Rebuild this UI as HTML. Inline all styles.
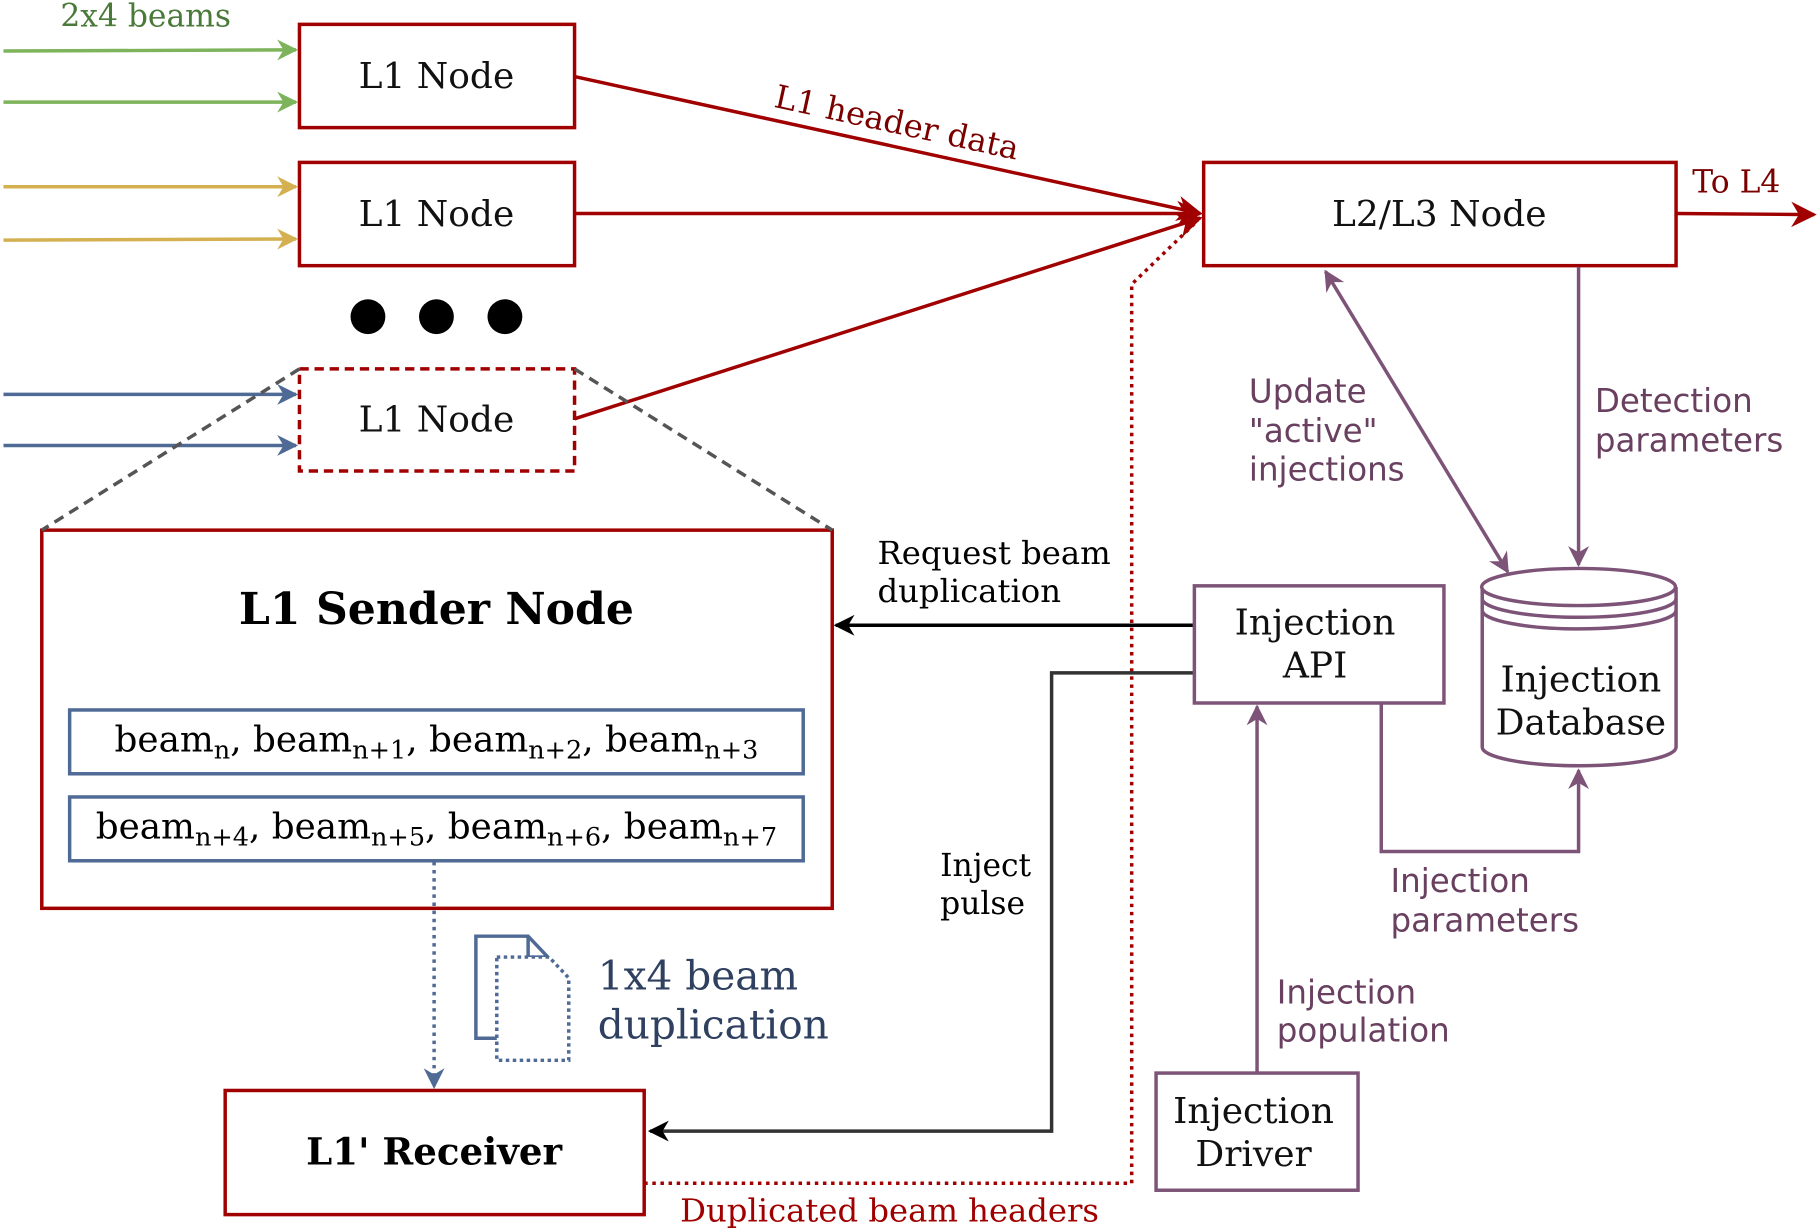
<!DOCTYPE html>
<html><head><meta charset="utf-8"><style>
html,body{margin:0;padding:0;background:#fff;}
svg{display:block;}
.s{font-family:"DejaVu Serif","Liberation Serif",serif;}
.n{font-family:"DejaVu Sans","Liberation Sans",sans-serif;}
</style></head><body>
<svg width="1820" height="1232" viewBox="0 0 1568 1062" preserveAspectRatio="none" xmlns="http://www.w3.org/2000/svg">
<defs>
<marker id="ag" viewBox="0 0 10 10" markerWidth="18" markerHeight="18" refX="9" refY="5" orient="auto" markerUnits="userSpaceOnUse"><path d="M0,0 L10,5 L0,10 L3,5 z" fill="#7db35a"/></marker>
<marker id="ay" viewBox="0 0 10 10" markerWidth="18" markerHeight="18" refX="9" refY="5" orient="auto" markerUnits="userSpaceOnUse"><path d="M0,0 L10,5 L0,10 L3,5 z" fill="#d4b050"/></marker>
<marker id="ab" viewBox="0 0 10 10" markerWidth="18" markerHeight="18" refX="9" refY="5" orient="auto" markerUnits="userSpaceOnUse"><path d="M0,0 L10,5 L0,10 L3,5 z" fill="#4f6a94"/></marker>
<marker id="ak" viewBox="0 0 10 10" markerWidth="18" markerHeight="18" refX="9" refY="5" orient="auto" markerUnits="userSpaceOnUse"><path d="M0,0 L10,5 L0,10 L3,5 z" fill="#000"/></marker>
<marker id="ap" viewBox="0 0 10 10" markerWidth="18" markerHeight="18" refX="9" refY="5" orient="auto-start-reverse" markerUnits="userSpaceOnUse"><path d="M0,0 L10,5 L0,10 L3,5 z" fill="#7d5478"/></marker>
<marker id="ar2" viewBox="0 0 10 10" markerWidth="22" markerHeight="22" refX="9" refY="5" orient="auto" markerUnits="userSpaceOnUse"><path d="M0,0 L10,5 L0,10 L3,5 z" fill="#a00000"/></marker>
</defs>
<g stroke-width="3">
<line x1="3" y1="44" x2="255" y2="43" stroke="#7db35a" marker-end="url(#ag)"/>
<line x1="3" y1="88" x2="255" y2="88" stroke="#7db35a" marker-end="url(#ag)"/>
<line x1="3" y1="161" x2="255" y2="161" stroke="#d4b050" marker-end="url(#ay)"/>
<line x1="3" y1="207" x2="255" y2="206" stroke="#d4b050" marker-end="url(#ay)"/>
<line x1="3" y1="340" x2="255" y2="340" stroke="#4f6a94" marker-end="url(#ab)"/>
<line x1="3" y1="384" x2="255" y2="384" stroke="#4f6a94" marker-end="url(#ab)"/>
</g>
<text x="52" y="23" class="s" font-size="27" fill="#4a7a3a">2x4 beams</text>
<g fill="none" stroke="#a00000" stroke-width="3">
<rect x="258" y="21" width="237" height="89"/>
<rect x="258" y="140" width="237" height="89"/>
<rect x="258" y="318" width="237" height="88" stroke-dasharray="8,5"/>
<rect x="1037" y="140" width="407" height="89"/>
<rect x="36" y="457" width="681" height="326"/>
<rect x="194" y="940" width="361" height="107"/>
<line x1="495" y1="66" x2="1034" y2="184" marker-end="url(#ar2)"/>
<line x1="495" y1="184" x2="1034" y2="184" marker-end="url(#ar2)"/>
<line x1="495" y1="361" x2="1034" y2="188" marker-end="url(#ar2)"/>
<line x1="1444" y1="184" x2="1563" y2="185" marker-end="url(#ar2)"/>
<polyline points="555,1020 975,1020 975,245 1032,190" stroke-dasharray="3,4"/>
</g>
<g class="s" font-size="31" text-anchor="middle" fill="#111">
<text x="376" y="76">L1 Node</text>
<text x="376" y="195">L1 Node</text>
<text x="376" y="372">L1 Node</text>
<text x="1240" y="195">L2/L3 Node</text>
</g>
<text class="s" font-size="27.8" fill="#7a0000" transform="translate(666,92) rotate(12.3)">L1 header data</text>
<text x="1458" y="166" class="s" font-size="27" fill="#7a0000">To L4</text>
<circle cx="317" cy="273" r="15"/><circle cx="376" cy="273" r="15"/><circle cx="435" cy="273" r="15"/>
<g stroke="#555" stroke-width="3" stroke-dasharray="9,6">
<line x1="258" y1="318" x2="36" y2="457"/><line x1="495" y1="318" x2="717" y2="457"/>
</g>
<text x="376" y="538" class="s" font-size="38" font-weight="bold" text-anchor="middle">L1 Sender Node</text>
<rect x="60" y="612" width="632" height="55" fill="none" stroke="#4f6a94" stroke-width="3"/>
<rect x="60" y="687" width="632" height="55" fill="none" stroke="#4f6a94" stroke-width="3"/>
<text x="376" y="648" class="s" font-size="30.8" text-anchor="middle">beam<tspan font-size="22" dy="6">n</tspan><tspan dy="-6">, beam</tspan><tspan font-size="22" dy="6">n+1</tspan><tspan dy="-6">, beam</tspan><tspan font-size="22" dy="6">n+2</tspan><tspan dy="-6">, beam</tspan><tspan font-size="22" dy="6">n+3</tspan></text>
<text x="376" y="723" class="s" font-size="30.8" text-anchor="middle">beam<tspan font-size="22" dy="6">n+4</tspan><tspan dy="-6">, beam</tspan><tspan font-size="22" dy="6">n+5</tspan><tspan dy="-6">, beam</tspan><tspan font-size="22" dy="6">n+6</tspan><tspan dy="-6">, beam</tspan><tspan font-size="22" dy="6">n+7</tspan></text>
<line x1="374" y1="743" x2="374" y2="937" stroke="#4f6a94" stroke-width="3" stroke-dasharray="3,4" marker-end="url(#ab)"/>
<path d="M410,807 H455 L472,825 V895 H410 Z" fill="#fff" stroke="#4f6a94" stroke-width="3"/>
<path d="M455,807 V825 H472" fill="none" stroke="#4f6a94" stroke-width="3"/>
<path d="M428,825 H473 L490,843 V914 H428 Z" fill="#fff" stroke="#4f6a94" stroke-width="3" stroke-dasharray="3,3"/>
<text x="515" y="853" class="s" font-size="35" fill="#2f4060">1x4 beam</text>
<text x="515" y="895" class="s" font-size="35" fill="#2f4060">duplication</text>
<text x="374" y="1004" class="s" font-size="32" font-weight="bold" text-anchor="middle">L1' Receiver</text>
<text x="586" y="1053" class="s" font-size="27.8" fill="#a00000">Duplicated beam headers</text>
<line x1="1029" y1="539" x2="720" y2="539" stroke="#000" stroke-width="3" marker-end="url(#ak)"/>
<text x="756" y="486" class="s" font-size="27.8">Request beam</text>
<text x="756" y="519" class="s" font-size="27.8">duplication</text>
<polyline points="1029,580 906,580 906,975 560,975" fill="none" stroke="#333" stroke-width="3" marker-end="url(#ak)"/>
<text x="810" y="755" class="s" font-size="27">Inject</text>
<text x="810" y="788" class="s" font-size="27">pulse</text>
<g fill="none" stroke="#7d5478" stroke-width="3">
<rect x="1029" y="505" width="215" height="101" fill="#fff"/>
<rect x="996" y="925" width="174" height="101"/>
<line x1="1142" y1="234" x2="1299" y2="493" marker-start="url(#ap)" marker-end="url(#ap)"/>
<line x1="1360" y1="230" x2="1360" y2="487" marker-end="url(#ap)"/>
<polyline points="1190,606 1190,734 1360,734 1360,664" marker-end="url(#ap)"/>
<line x1="1083" y1="925" x2="1083" y2="609" marker-end="url(#ap)"/>
<path d="M1277,506 V644 A83,16 0 0 0 1444,644 V506" fill="#fff"/>
<ellipse cx="1360" cy="506" rx="83.5" ry="16" fill="#fff"/>
<path d="M1277,516 A83,16 0 0 0 1444,516"/>
<path d="M1277,526 A83,16 0 0 0 1444,526"/>
</g>
<g class="s" font-size="31" text-anchor="middle" fill="#111">
<text x="1133" y="547">Injection</text><text x="1133" y="584">API</text>
<text x="1362" y="596">Injection</text><text x="1362" y="633">Database</text>
<text x="1080" y="968">Injection</text><text x="1080" y="1005">Driver</text>
</g>
<g class="n" font-size="28" fill="#6a4060">
<text x="1076" y="347">Update</text><text x="1076" y="381">"active"</text><text x="1076" y="414">injections</text>
<text x="1374" y="355">Detection</text><text x="1374" y="389">parameters</text>
<text x="1198" y="769">Injection</text><text x="1198" y="803">parameters</text>
<text x="1100" y="865">Injection</text><text x="1100" y="898">population</text>
</g>
</svg>
</body></html>
